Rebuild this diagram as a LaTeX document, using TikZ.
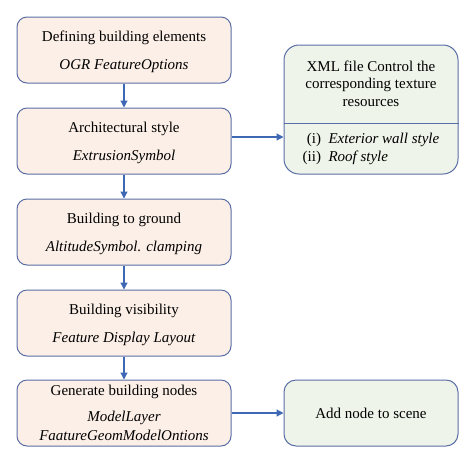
\documentclass[tikz,border=0pt]{standalone}
\usepackage{fontspec}
\setmainfont{Liberation Serif}
\usetikzlibrary{positioning,arrows.meta}
\definecolor{boxline}{HTML}{5A6EA6}
\definecolor{stepfill}{HTML}{FCEFE7}
\definecolor{sidefill}{HTML}{EFF4EA}
\definecolor{arrowblue}{HTML}{3E68B4}
\tikzset{
  stepbox/.style={draw=boxline, line width=1pt, fill=stepfill, rounded corners=10pt,
    minimum width=214pt, minimum height=66pt, align=center, inner sep=2pt,
    font=\fontsize{15}{18}\selectfont},
  sidebox/.style={draw=boxline, line width=1pt, fill=sidefill, rounded corners=15pt,
    minimum width=174pt, align=center, font=\fontsize{15}{17.5}\selectfont},
  flow/.style={draw=arrowblue, line width=1.2pt, -{Triangle[width=7pt,length=7pt]}}
}
\begin{document}
\begin{tikzpicture}[x=1pt,y=1pt,node distance=24pt]
\useasboundingbox (0,0) rectangle (474,-459);

\node[stepbox] (define) at (124,-50) {\rule{0pt}{14pt}Defining building elements\\[10pt]\textit{OGR FeatureOptions}};
\node[stepbox, below=of define] (style) {\rule{0pt}{14pt}Architectural style\\[10pt]\textit{ExtrusionSymbol}};
\node[stepbox, below=of style] (ground) {\rule{0pt}{14pt}Building to ground\\[10pt]\textit{AltitudeSymbol. clamping}};
\node[stepbox, below=of ground] (visible) {\rule{0pt}{14pt}Building visibility\\[10pt]\textit{Feature Display Layout}};
\node[stepbox, below=23pt of visible, font=\fontsize{15}{19}\selectfont] (generate) {Generate building nodes\\[7pt]\textit{ModelLayer}\\\textit{FaatureGeomModelOntions}};

\node[sidebox, minimum height=129pt, anchor=north west] (xml) at ([xshift=52pt,yshift=-28pt]define.north east) {};
\coordinate (divl) at ([yshift=51pt]xml.south west);
\coordinate (divr) at ([yshift=51pt]xml.south east);
\draw[draw=boxline, line width=1pt] (divl) -- (divr);
\node[align=center, font=\fontsize{15}{17.5}\selectfont] (xmlhead) at ([yshift=-39pt]xml.north) {XML file Control the\\corresponding texture\\resources};
\node[font=\fontsize{15}{18}\selectfont] (xmlitems) at ([yshift=25.5pt]xml.south) {\begin{tabular}{@{}r@{\ \ }l@{}}(i) & \textit{Exterior wall style}\\(ii) & \textit{Roof style}\end{tabular}};

\node[sidebox, minimum height=66pt, rounded corners=12pt, right=52pt of generate] (scene) {Add node to scene};

\draw[flow] (define) -- (style);
\draw[flow] (style) -- (ground);
\draw[flow] (ground) -- (visible);
\draw[flow] (visible) -- (generate);
\draw[flow] ([yshift=4pt]style.east) -- ([yshift=4pt]style.east -| xml.west);
\draw[flow] (generate) -- (scene);
\end{tikzpicture}
\end{document}
